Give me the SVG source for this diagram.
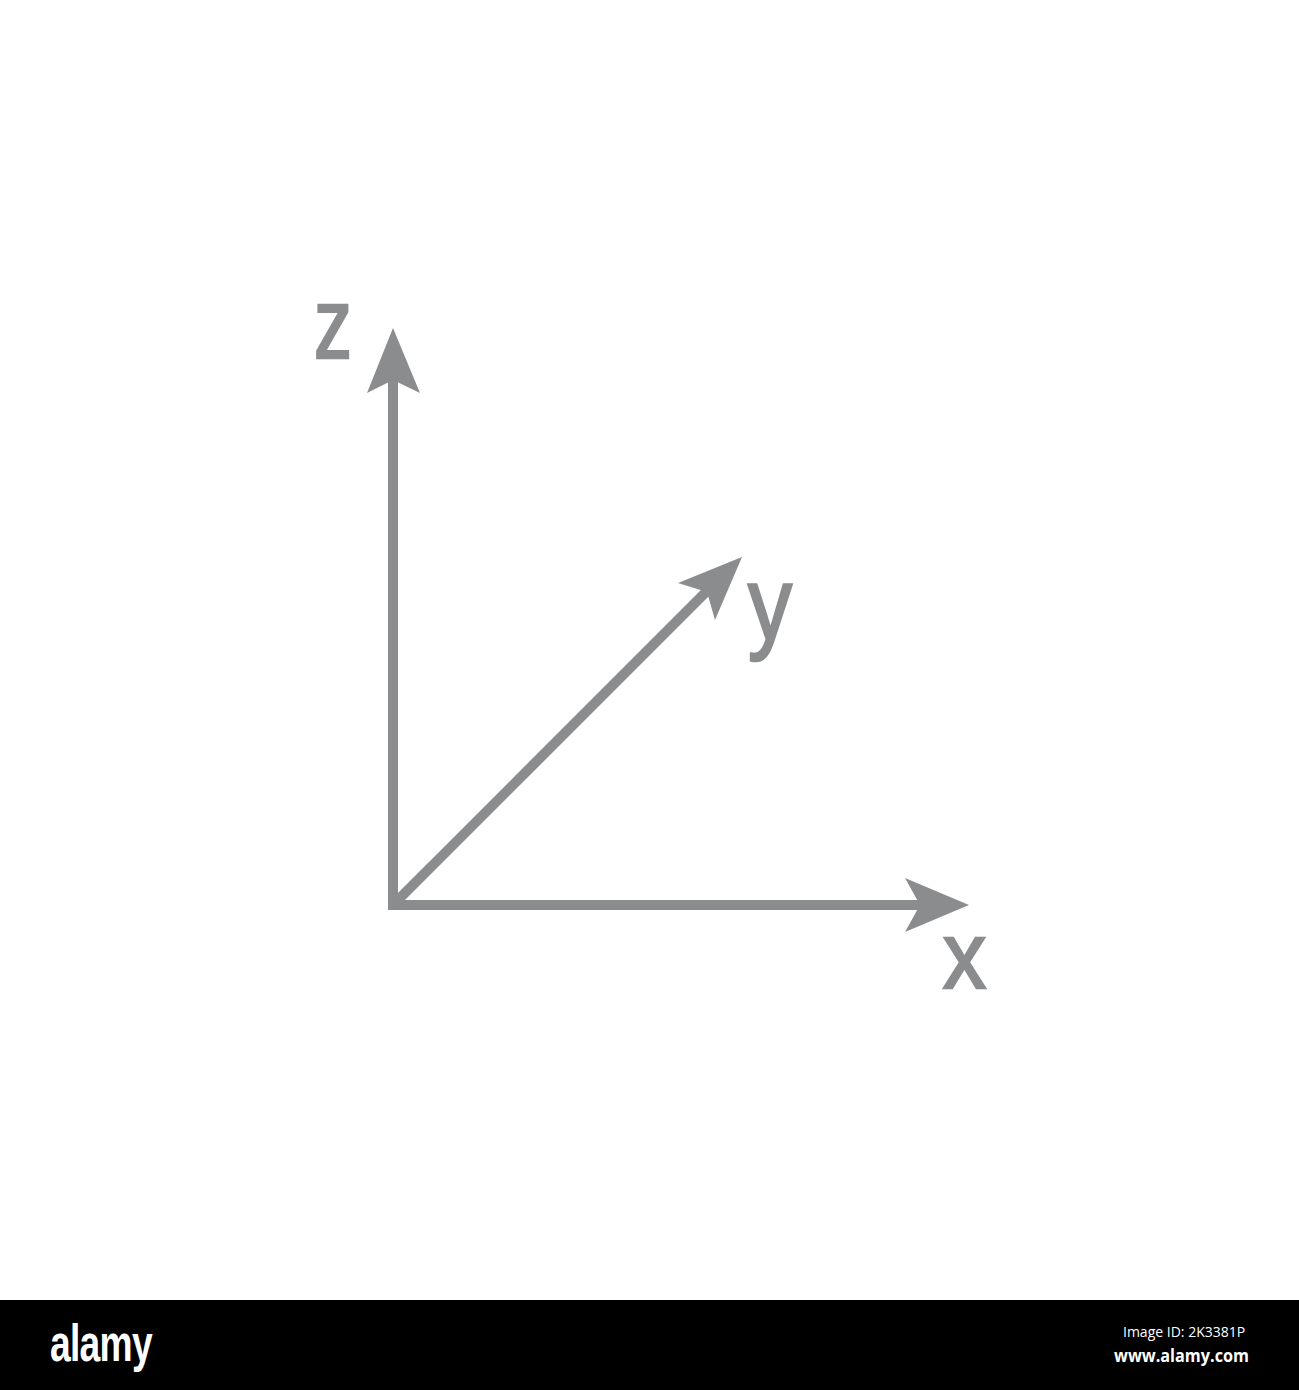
<svg xmlns="http://www.w3.org/2000/svg" width="1299" height="1390" viewBox="0 0 1299 1390">
<style>
.ax{stroke:#8a8c8e;stroke-width:10;fill:none;stroke-linejoin:miter}
.hd{fill:#8a8c8e}
.lbl{font-family:"Liberation Sans",Arial,sans-serif;fill:#8a8c8e;stroke:#8a8c8e;stroke-width:2.5}
</style>
<rect width="1299" height="1390" fill="#ffffff"/>
<g id="connectors">
<path class="ax" d="M393 375 V905 H928"/>
<path class="ax" d="M395 903 L712 586"/>
</g>
<g id="z-axis">
<path class="hd" d="M393 328 L420 393 L393 380 L367 393 Z"/>
<text class="lbl" x="314" y="358" font-size="100" textLength="38" lengthAdjust="spacingAndGlyphs">z</text>
</g>
<g id="y-axis">
<path class="hd" d="M742 557 L715 620 L707 592 L678 583 Z"/>
<text class="lbl" x="748" y="639" font-size="104" textLength="44" lengthAdjust="spacingAndGlyphs">y</text>
</g>
<g id="x-axis">
<path class="hd" d="M969 905 L905 932 L920 905 L905 878 Z"/>
<text class="lbl" x="943" y="988" font-size="94" textLength="43" lengthAdjust="spacingAndGlyphs">x</text>
</g>
<g id="footer">
<rect x="0" y="1300" width="1299" height="90" fill="#000000"/>
<text x="50" y="1361" font-family="Liberation Sans,Arial,sans-serif" font-weight="bold" font-size="52" fill="#ffffff" textLength="102" lengthAdjust="spacingAndGlyphs" letter-spacing="-1">alamy</text>
<text x="1123" y="1337" font-family="Open Sans,Liberation Sans,sans-serif" font-size="14" fill="#ffffff">Image ID: 2K3381P</text>
<text x="1114" y="1362" font-family="Open Sans,Liberation Sans,sans-serif" font-weight="bold" font-size="17" fill="#ffffff" textLength="135" lengthAdjust="spacingAndGlyphs">www.alamy.com</text>
</g>
</svg>
